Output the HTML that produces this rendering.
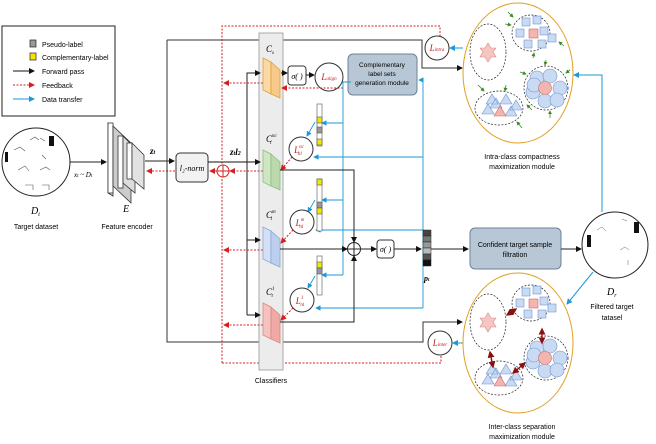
<!DOCTYPE html>
<html><head><meta charset="utf-8"><style>
body{margin:0;background:#fff}
svg{display:block;font-family:"Liberation Sans",sans-serif}
.s{font-family:"Liberation Serif",serif;font-style:italic}
</style></head><body>
<svg width="656" height="444" viewBox="0 0 656 444" xmlns="http://www.w3.org/2000/svg">
<defs>
<marker id="ak" markerWidth="6" markerHeight="6" refX="5" refY="3" orient="auto"><path d="M0,0L6,3L0,6z" fill="#111"/></marker>
<marker id="ar" markerWidth="6" markerHeight="6" refX="5" refY="3" orient="auto"><path d="M0,0L6,3L0,6z" fill="#d42020"/></marker>
<marker id="ab" markerWidth="6" markerHeight="6" refX="5" refY="3" orient="auto"><path d="M0,0L6,3L0,6z" fill="#1a9ad6"/></marker>
<marker id="ad" markerWidth="5" markerHeight="5" refX="4" refY="2.5" orient="auto-start-reverse"><path d="M0,0L5,2.5L0,5z" fill="#8a1010"/></marker>
<marker id="ag" markerWidth="5" markerHeight="5" refX="4" refY="2.5" orient="auto"><path d="M0,0L5,2.5L0,5z" fill="#3a8a20"/></marker>
</defs>
<!-- legend -->
<rect x="2" y="26" width="113" height="90" fill="#fff" stroke="#222"/>
<rect x="30" y="40" width="6" height="7" fill="#999" stroke="#222" stroke-width=".7"/>
<text x="42" y="47" font-size="7">Pseudo-label</text>
<rect x="30" y="53" width="6" height="7" fill="#f5e400" stroke="#222" stroke-width=".7"/>
<text x="42" y="60" font-size="7">Complementary-label</text>
<line x1="13" y1="71" x2="34" y2="71" stroke="#111" marker-end="url(#ak)"/><text x="42" y="74" font-size="7">Forward pass</text>
<line x1="13" y1="85" x2="34" y2="85" stroke="#d42020" stroke-dasharray="2,1.5" marker-end="url(#ar)"/><text x="42" y="88" font-size="7">Feedback</text>
<line x1="13" y1="99" x2="34" y2="99" stroke="#1a9ad6" marker-end="url(#ab)"/><text x="42" y="102" font-size="7">Data transfer</text>
<!-- target dataset -->
<circle cx="36" cy="162" r="34" fill="#fff" stroke="#222"/>
<g stroke="#555" stroke-width=".6" fill="none"><path d="M14,150l6,-3l5,4M30,140l5,-3l4,3M40,138l5,3M18,170l7,-4l4,5M25,185h8v5M42,185h7v5M40,170l6,-3l4,3M42,155l4,4"/></g>
<rect x="49" y="136" width="5" height="10" fill="#111"/><rect x="5" y="152" width="3" height="10" fill="#111"/>
<text x="31" y="214" class="s" font-size="10">D<tspan font-size="6" dy="2">t</tspan></text>
<text x="36" y="229" font-size="7" text-anchor="middle">Target dataset</text>
<line x1="70" y1="162" x2="106" y2="162" stroke="#222" marker-end="url(#ak)"/>
<text x="74" y="177" class="s" font-size="7">x<tspan font-size="5">t</tspan> ~ D<tspan font-size="5">t</tspan></text>
<!-- encoder -->
<g stroke="#333" stroke-width=".8">
<path d="M108,123l5,3v70l-5,-3z" fill="#ddd"/>
<rect x="108" y="123" width="5" height="70" fill="#fff"/>
<path d="M113,126l18,17v60l-18,-17z" fill="#ccc"/>
<rect x="118" y="136" width="5" height="52" fill="#fff"/><path d="M123,136l12,12v45l-12,-10z" fill="#ddd"/>
<rect x="127" y="143" width="5" height="36" fill="#fff"/><path d="M132,143l12,12v34l-12,-10z" fill="#e2e2e2"/>
</g>
<text x="123" y="212" class="s" font-size="10">E</text>
<text x="127" y="229" font-size="7" text-anchor="middle">Feature encoder</text>
<line x1="145" y1="161" x2="174" y2="161" stroke="#222" marker-end="url(#ak)"/>
<text x="150" y="154" class="s" font-size="9" font-weight="bold">z<tspan font-size="6">t</tspan></text>
<line x1="175" y1="171" x2="147" y2="171" stroke="#d42020" stroke-dasharray="2,1.5" marker-end="url(#ar)"/>
<rect x="176" y="153" width="32" height="29" rx="4" fill="#f2f2f2" stroke="#333"/>
<text x="192" y="171" class="s" font-size="8" text-anchor="middle">l₂-norm</text>
<!-- outer black rect -->
<path d="M167,40H422V68H462" fill="none" stroke="#333" marker-end="url(#ak)"/>
<path d="M167,40V342H423V322H462" fill="none" stroke="#333" marker-end="url(#ak)"/>
<!-- red dashed rect -->
<path d="M222,363V26H440V36" fill="none" stroke="#d42020" stroke-dasharray="2,1.5"/>
<path d="M222,363H441V355" fill="none" stroke="#d42020" stroke-dasharray="2,1.5"/>
<!-- classifiers column -->
<rect x="259" y="33" width="24" height="337" fill="#ececec" stroke="#aaa"/>
<text x="271" y="383" font-size="7" text-anchor="middle">Classifiers</text>
<!-- forward lines -->
<line x1="208" y1="162" x2="260" y2="162" stroke="#111" marker-end="url(#ak)"/>
<text x="230" y="155" class="s" font-size="9" font-weight="bold">z<tspan font-size="6">t</tspan>l<tspan font-size="6">2</tspan></text>
<path d="M247,315V73H260" fill="none" stroke="#222" marker-end="url(#ak)"/>
<line x1="247" y1="240" x2="260" y2="240" stroke="#222" marker-end="url(#ak)"/>
<line x1="247" y1="315" x2="260" y2="315" stroke="#222" marker-end="url(#ak)"/>
<!-- red feedback into column -->
<g stroke="#d42020" stroke-dasharray="2,1.5" fill="none">
<line x1="263" y1="83" x2="224" y2="83" marker-end="url(#ar)"/>
<line x1="263" y1="171" x2="230" y2="171" marker-end="url(#ar)"/>
<line x1="263" y1="250" x2="224" y2="250" marker-end="url(#ar)"/>
<line x1="263" y1="325" x2="224" y2="325" marker-end="url(#ar)"/>
<line x1="217" y1="171" x2="210" y2="171" marker-end="url(#ar)"/>
</g>
<circle cx="223" cy="171" r="6" fill="#fff" stroke="#d42020"/>
<path d="M217,171h12M223,165v12" stroke="#d42020"/>
<!-- classifier blocks -->
<g stroke-width=".8">
<path d="M263,58l8,4v32l-8,-4z" fill="#fad9a8" stroke="#e0a030"/><path d="M271,62l9,8v28l-9,-4z" fill="#f7c98a" stroke="#e0a030"/>
<path d="M263,150l8,4v32l-8,-4z" fill="#cfe5c4" stroke="#8cbf7a"/><path d="M271,154l9,8v28l-9,-4z" fill="#bcd9ad" stroke="#8cbf7a"/>
<path d="M263,227l8,4v32l-8,-4z" fill="#d3e0f5" stroke="#8aa7da"/><path d="M271,231l9,8v28l-9,-4z" fill="#bccfee" stroke="#8aa7da"/>
<path d="M263,303l8,4v32l-8,-4z" fill="#f4c3c0" stroke="#d98780"/><path d="M271,307l9,8v28l-9,-4z" fill="#efaaa5" stroke="#d98780"/>
</g>
<text x="266" y="52" class="s" font-size="9">C<tspan font-size="5" dy="2">s</tspan></text>
<text x="266" y="142" class="s" font-size="9">C<tspan font-size="5" dy="-5">nc</tspan><tspan font-size="5" dx="-7" dy="7">t</tspan></text>
<text x="266" y="218" class="s" font-size="9">C<tspan font-size="5" dy="-5">m</tspan><tspan font-size="5" dx="-5" dy="7">t</tspan></text>
<text x="266" y="295" class="s" font-size="9">C<tspan font-size="5" dy="-5">1</tspan><tspan font-size="5" dx="-3" dy="7">t</tspan></text>
<!-- Cs branch -->
<line x1="281" y1="73" x2="287" y2="73" stroke="#111" marker-end="url(#ak)"/>
<rect x="288" y="66" width="18" height="19" rx="3" fill="#fff" stroke="#333"/>
<text x="297" y="79" class="s" font-size="8" text-anchor="middle">σ( )</text>
<line x1="306" y1="75" x2="314" y2="75" stroke="#111" marker-end="url(#ak)"/>
<circle cx="329" cy="77" r="14" fill="#fff" stroke="#333"/>
<text x="329" y="80" class="s" font-size="9" fill="#c01818" text-anchor="middle">L<tspan font-size="5">align</tspan></text>
<path d="M343,88H282" stroke="#d42020" stroke-dasharray="2,1.5" fill="none" marker-end="url(#ar)"/>
<!-- complementary box -->
<rect x="348" y="54" width="69" height="41" rx="5" fill="#b8c7d5" stroke="#6d8397"/>
<text x="382" y="67" font-size="6.5" text-anchor="middle">Complementary</text>
<text x="382" y="76" font-size="6.5" text-anchor="middle">label sets</text>
<text x="382" y="85" font-size="6.5" text-anchor="middle">generation module</text>
<!-- blue lines -->
<g stroke="#1a9ad6" fill="none" stroke-width=".9">
<path d="M351,82H343V275"/>
<line x1="343" y1="123" x2="322" y2="123" marker-end="url(#ab)"/>
<line x1="343" y1="200" x2="322" y2="200" marker-end="url(#ab)"/>
<line x1="343" y1="275" x2="322" y2="275" marker-end="url(#ab)"/>
<path d="M423,230V80H419" marker-end="url(#ab)"/>
<path d="M423,230V308"/>
<line x1="423" y1="157" x2="314" y2="157" marker-end="url(#ab)"/>
<line x1="423" y1="230" x2="316" y2="230" marker-end="url(#ab)"/>
<line x1="423" y1="308" x2="316" y2="308" marker-end="url(#ab)"/>
<line x1="315" y1="122" x2="307" y2="136" marker-end="url(#ab)"/>
<line x1="315" y1="200" x2="308" y2="212" marker-end="url(#ab)"/>
<line x1="315" y1="276" x2="308" y2="288" marker-end="url(#ab)"/>
</g>
<!-- label bars -->
<g stroke="#555" stroke-width=".6">
<rect x="317" y="104" width="5" height="42" fill="#fff"/><rect x="317" y="117" width="5" height="6" fill="#f5e400"/><rect x="317" y="127" width="5" height="6" fill="#999"/><rect x="317" y="139" width="5" height="6" fill="#f5e400"/>
<rect x="317" y="179" width="5" height="52" fill="#fff"/><rect x="317" y="179" width="5" height="6" fill="#f5e400"/><rect x="317" y="202" width="5" height="6" fill="#999"/><rect x="317" y="208" width="5" height="6" fill="#f5e400"/>
<rect x="317" y="256" width="5" height="39" fill="#fff"/><rect x="317" y="262" width="5" height="6" fill="#f5e400"/><rect x="317" y="268" width="5" height="6" fill="#999"/>
</g>
<!-- L_nl circles -->
<g fill="#fff" stroke="#333"><circle cx="301" cy="149" r="12"/><circle cx="302" cy="222" r="12"/><circle cx="302" cy="300" r="12"/></g>
<text x="299" y="153" class="s" font-size="9" fill="#c01818" text-anchor="middle">L<tspan font-size="5" dy="-5">nc</tspan><tspan font-size="5" dx="-6" dy="7">nl</tspan></text>
<text x="300" y="226" class="s" font-size="9" fill="#c01818" text-anchor="middle">L<tspan font-size="5" dy="-5">m</tspan><tspan font-size="5" dx="-5" dy="7">nl</tspan></text>
<text x="300" y="304" class="s" font-size="9" fill="#c01818" text-anchor="middle">L<tspan font-size="5" dy="-5">1</tspan><tspan font-size="5" dx="-3" dy="7">nl</tspan></text>
<g stroke="#d42020" stroke-dasharray="2,1.5"><line x1="292" y1="157" x2="281" y2="170" marker-end="url(#ar)"/><line x1="293" y1="230" x2="281" y2="243" marker-end="url(#ar)"/><line x1="293" y1="308" x2="281" y2="320" marker-end="url(#ar)"/></g>
<!-- outputs to sum -->
<path d="M280,170H354V242" fill="none" stroke="#222" marker-end="url(#ak)"/>
<line x1="280" y1="249" x2="347" y2="249" stroke="#222" marker-end="url(#ak)"/>
<path d="M280,322H354V256" fill="none" stroke="#222" marker-end="url(#ak)"/>
<circle cx="354" cy="249" r="6.5" fill="#fff" stroke="#222"/><path d="M347.5,249h13M354,242.5v13" stroke="#222"/>
<line x1="361" y1="249" x2="376" y2="249" stroke="#222" marker-end="url(#ak)"/>
<rect x="377" y="240" width="17" height="18" rx="3" fill="#fff" stroke="#333"/>
<text x="385.5" y="252" class="s" font-size="8" text-anchor="middle">σ( )</text>
<line x1="394" y1="249" x2="421" y2="249" stroke="#222" marker-end="url(#ak)"/>
<g stroke="#222" stroke-width=".5"><rect x="423" y="230" width="8" height="6" fill="#444"/><rect x="423" y="236" width="8" height="6" fill="#777"/><rect x="423" y="242" width="8" height="6" fill="#999"/><rect x="423" y="248" width="8" height="6" fill="#bbb"/><rect x="423" y="254" width="8" height="6" fill="#555"/><rect x="423" y="260" width="8" height="6" fill="#111"/></g>
<text x="424" y="281" class="s" font-size="8" font-weight="bold">p<tspan font-size="5">t</tspan></text>
<line x1="431" y1="249" x2="468" y2="249" stroke="#222" marker-end="url(#ak)"/>
<rect x="470" y="228" width="91" height="41" rx="5" fill="#b8c7d5" stroke="#6d8397"/>
<text x="515" y="247" font-size="7" text-anchor="middle">Confident target sample</text>
<text x="515" y="257" font-size="7" text-anchor="middle">filtration</text>
<line x1="561" y1="249" x2="581" y2="249" stroke="#222" marker-end="url(#ak)"/>
<circle cx="615" cy="245" r="33" fill="#fff" stroke="#222"/>
<rect x="587" y="235" width="4" height="12" fill="#111"/><rect x="634" y="222" width="5" height="11" fill="#111"/>
<g stroke="#666" stroke-width=".5" fill="none"><path d="M597,230l5,-3l4,4M622,219l5,2M620,250l5,-3l4,3M628,260v5"/></g>
<text x="607" y="295" class="s" font-size="10">D<tspan font-size="6" dy="2">r</tspan></text>
<text x="612" y="309" font-size="7" text-anchor="middle">Filtered target</text>
<text x="612" y="320" font-size="7" text-anchor="middle">tatasel</text>
<path d="M602,212V75H574" fill="none" stroke="#1a9ad6" marker-end="url(#ab)"/>
<line x1="593" y1="272" x2="567" y2="304" stroke="#1a9ad6" marker-end="url(#ab)"/>
<!-- L_intra / L_inter -->
<circle cx="437" cy="48" r="12" fill="#fff" stroke="#333"/>
<text x="437" y="51" class="s" font-size="9" fill="#c01818" text-anchor="middle">L<tspan font-size="5">intra</tspan></text>
<line x1="463" y1="48" x2="450" y2="48" stroke="#1a9ad6" marker-end="url(#ab)"/>
<circle cx="440" cy="343" r="12" fill="#fff" stroke="#333"/>
<text x="440" y="346" class="s" font-size="9" fill="#c01818" text-anchor="middle">L<tspan font-size="5">inter</tspan></text>
<line x1="465" y1="343" x2="453" y2="343" stroke="#1a9ad6" marker-end="url(#ab)"/>
<!-- ellipses -->
<g id="clus">
<ellipse cx="518" cy="73" rx="55" ry="70" fill="#fff" stroke="#e0a020"/>
<g fill="none" stroke="#222" stroke-dasharray="2,1.5" stroke-width=".7">
<ellipse cx="488" cy="52" rx="18" ry="28"/><ellipse cx="531" cy="33" rx="19" ry="18"/><ellipse cx="546" cy="88" rx="22" ry="22"/><ellipse cx="499" cy="108" rx="24" ry="17"/></g>
<path d="M488,43l3,5h5l-3,4l3,5h-5l-3,5l-3,-5h-5l3,-5l-3,-4h5z" fill="#f6c6c3" stroke="#d98780" stroke-width=".6"/>
<g fill="#c9daf3" stroke="#6f95d2" stroke-width=".6">
<rect x="522" y="18" width="8" height="8"/><rect x="533" y="16" width="8" height="8"/><rect x="516" y="29" width="8" height="8"/><rect x="540" y="27" width="8" height="8"/><rect x="524" y="40" width="8" height="8"/><rect x="538" y="40" width="8" height="8"/><rect x="548" y="34" width="8" height="8"/>
<circle cx="537" cy="78" r="7"/><circle cx="550" cy="76" r="7"/><circle cx="560" cy="88" r="7"/><circle cx="533" cy="92" r="7"/><circle cx="545" cy="101" r="7"/><circle cx="557" cy="100" r="7"/><circle cx="534" cy="85" r="7"/>
<path d="M482,114l6,-10l6,10zM490,108l6,-10l6,10zM500,104l6,-10l6,10zM505,116l6,-10l6,10zM486,104l6,-10l6,10zM510,110l6,-10l6,10z"/>
</g>
<rect x="529" y="29" width="9" height="9" fill="#f2b5b0" stroke="#d06a62" stroke-width=".6"/>
<circle cx="545" cy="88" r="6.5" fill="#f2b5b0" stroke="#d06a62" stroke-width=".6"/>
<path d="M494,116l6,-10l6,10z" fill="#f2b5b0" stroke="#d06a62" stroke-width=".6"/>
</g>
<g stroke="#3a8a20" stroke-width=".8">
<line x1="508" y1="12" x2="513" y2="17" marker-end="url(#ag)"/><line x1="505" y1="24" x2="511" y2="25" marker-end="url(#ag)"/><line x1="564" y1="46" x2="559" y2="42" marker-end="url(#ag)"/><line x1="533" y1="58" x2="534" y2="53" marker-end="url(#ag)"/><line x1="520" y1="72" x2="526" y2="74" marker-end="url(#ag)"/><line x1="570" y1="70" x2="566" y2="73" marker-end="url(#ag)"/><line x1="550" y1="118" x2="550" y2="111" marker-end="url(#ag)"/><line x1="532" y1="110" x2="527" y2="105" marker-end="url(#ag)"/><line x1="478" y1="85" x2="484" y2="91" marker-end="url(#ag)"/><line x1="506" y1="85" x2="505" y2="91" marker-end="url(#ag)"/><line x1="522" y1="128" x2="517" y2="122" marker-end="url(#ag)"/><line x1="546" y1="60" x2="545" y2="65" marker-end="url(#ag)"/></g>
<text x="522" y="159" font-size="7" text-anchor="middle">Intra-class compactness</text>
<text x="522" y="169" font-size="7" text-anchor="middle">maximization module</text>
<use href="#clus" transform="translate(0,270)"/>
<g stroke="#8a1010" stroke-width="1.4">
<line x1="507" y1="315" x2="516" y2="309" marker-start="url(#ad)" marker-end="url(#ad)"/>
<line x1="542" y1="329" x2="542" y2="343" marker-start="url(#ad)" marker-end="url(#ad)"/>
<line x1="490" y1="352" x2="493" y2="367" marker-start="url(#ad)" marker-end="url(#ad)"/>
<line x1="513" y1="373" x2="525" y2="363" marker-start="url(#ad)" marker-end="url(#ad)"/>
</g>
<text x="522" y="429" font-size="7" text-anchor="middle">Inter-class separation</text>
<text x="522" y="439" font-size="7" text-anchor="middle">maximization module</text>
</svg>
</body></html>
